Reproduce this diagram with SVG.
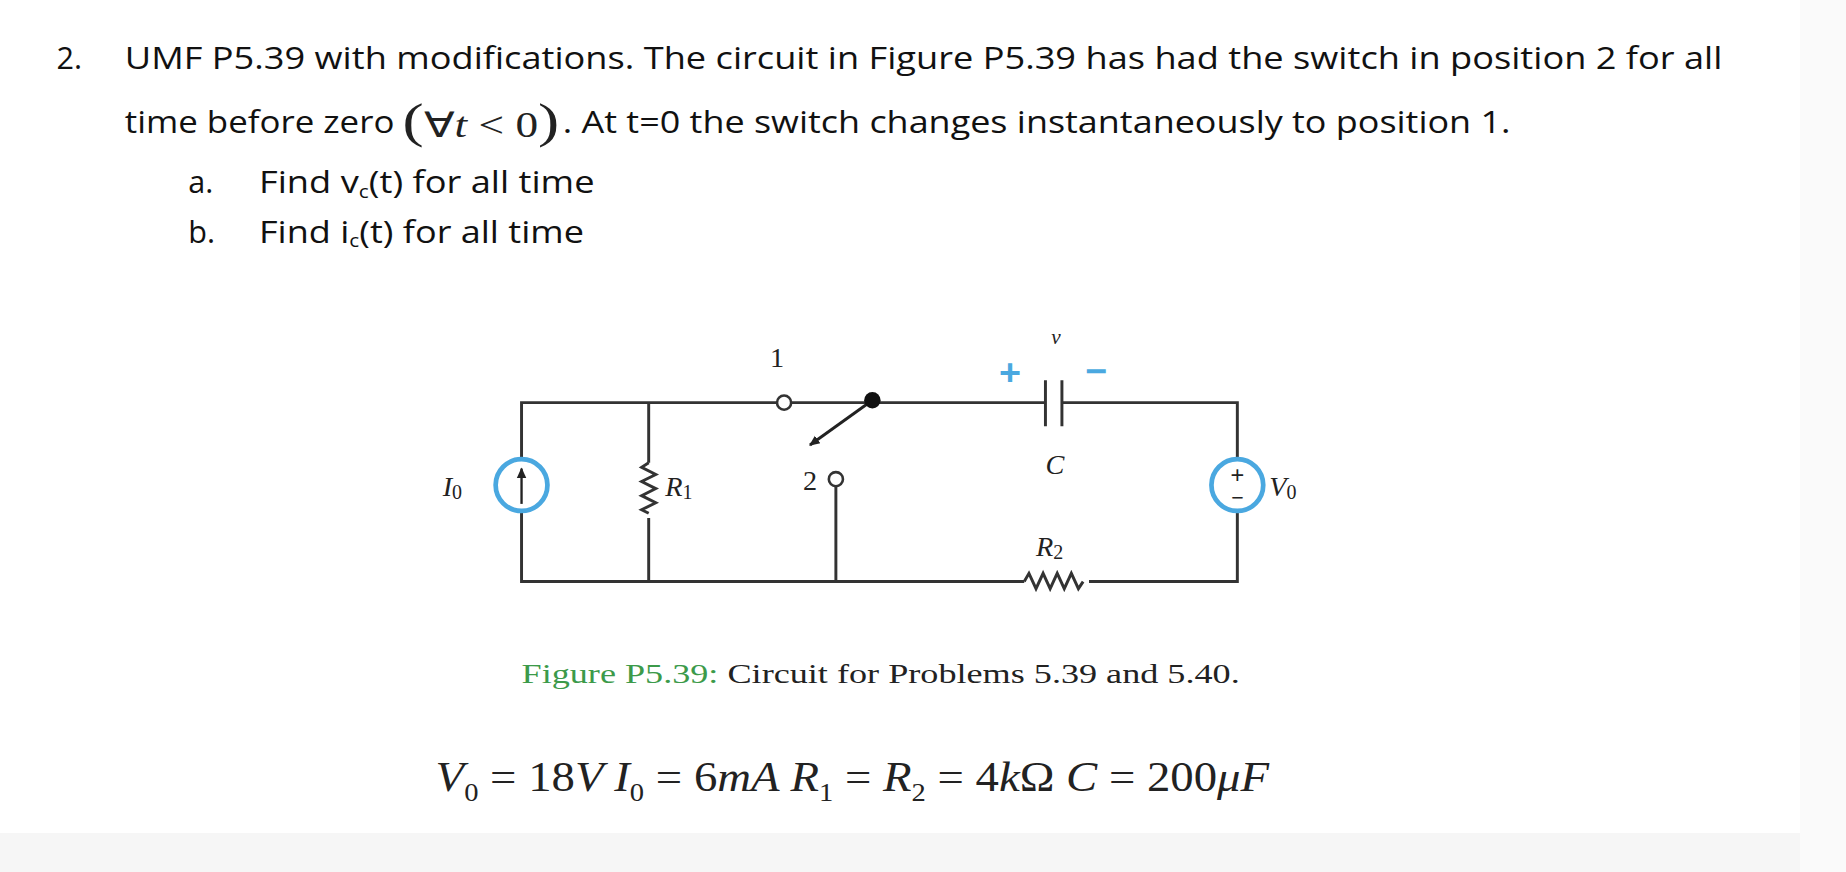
<svg xmlns="http://www.w3.org/2000/svg" width="1846" height="872" viewBox="0 0 1846 872">
<style>
.t{font-family:"Open Sans","Liberation Sans",sans-serif;font-size:26px;fill:#111}
.s{font-family:"Liberation Serif",serif;fill:#222}
.i{font-style:italic}
.w{stroke:#333;stroke-width:2.5;fill:none}
.b{stroke:#4aa8e0;stroke-width:4;fill:#fff}
.bt{font-family:"Liberation Sans",sans-serif;font-weight:bold;fill:#4aa8e0}
</style>
<defs><marker id="ah" markerWidth="10" markerHeight="10" refX="8" refY="5" orient="auto" markerUnits="userSpaceOnUse"><path d="M0,1 L9,5 L0,9 Z" fill="#222"/></marker></defs>
<rect width="1846" height="872" fill="#fff"/>
<rect x="0" y="833" width="1846" height="39" fill="#f6f6f6"/>
<rect x="1800" y="0" width="46" height="872" fill="#fafafa"/>
<g transform="scale(1.1773)">
<g id="text">
<text class="t" x="48" y="59">2.</text>
<text class="t" x="106" y="59" textLength="1357" lengthAdjust="spacingAndGlyphs">UMF P5.39 with modifications. The circuit in Figure P5.39 has had the switch in position 2 for all</text>
<text class="t" x="106" y="113" textLength="229" lengthAdjust="spacingAndGlyphs">time before zero</text>
<text class="s" x="342" y="116" font-size="30" textLength="133" lengthAdjust="spacingAndGlyphs"><tspan font-size="42">(</tspan>∀<tspan class="i">t</tspan> &lt; 0<tspan font-size="42">)</tspan></text>
<text class="t" x="478" y="113" textLength="805" lengthAdjust="spacingAndGlyphs">. At t=0 the switch changes instantaneously to position 1.</text>
<text class="t" x="160" y="164">a.</text>
<text class="t" x="220" y="164" textLength="285" lengthAdjust="spacingAndGlyphs">Find v<tspan font-size="15" dy="4">c</tspan><tspan dy="-4">(t) for all time</tspan></text>
<text class="t" x="160" y="206">b.</text>
<text class="t" x="220" y="206" textLength="276" lengthAdjust="spacingAndGlyphs">Find i<tspan font-size="15" dy="4">c</tspan><tspan dy="-4">(t) for all time</tspan></text>
</g>
<g id="connectors">
<path class="w" d="M443,390 V342 H660 M672,342 H741 M741,342 H888 M902,342 H1051 V390 M1051,434 V494 H925 M870,494 H443 V434 M551,342 V393 M551,440 V494 M710,413 V494"/>
<path class="w" d="M888,323 V362 M902,323 V362"/>
<path class="w" d="M551,393 l-6,4 l12,6 l-12,6 l12,6 l-12,6 l12,6 l-12,6 l6,3"/>
<path class="w" d="M870,494 l4,-7 l6,13 l6,-13 l6,13 l6,-13 l6,13 l6,-13 l6,13 l4,-6"/>
<line x1="741" y1="340" x2="688" y2="378" stroke="#222" stroke-width="2.5" marker-end="url(#ah)"/>
</g>
<g id="switch"><circle cx="666" cy="342" r="6" fill="#fff" stroke="#333" stroke-width="2.2"/><circle cx="710" cy="407" r="6" fill="#fff" stroke="#333" stroke-width="2.2"/><circle cx="741" cy="340" r="7" fill="#111"/>
<text class="s" x="660" y="312" font-size="24" text-anchor="middle">1</text>
<text class="s" x="688" y="416" font-size="24" text-anchor="middle">2</text></g>
<g id="I0"><circle class="b" cx="443" cy="412" r="22"/><line x1="443" y1="428" x2="443" y2="398" stroke="#222" stroke-width="2" marker-end="url(#ah)"/>
<text class="s i" x="376" y="421" font-size="24">I<tspan font-size="17" font-style="normal" dy="3">0</tspan></text></g>
<g id="R1"><text class="s i" x="565" y="421" font-size="24">R<tspan font-size="17" font-style="normal" dy="3">1</tspan></text></g>
<g id="C"><text class="bt" x="858" y="327" font-size="32" text-anchor="middle">+</text><text class="bt" x="931" y="326" font-size="32" text-anchor="middle">−</text>
<text class="s i" x="897" y="292" font-size="18" text-anchor="middle">v</text>
<text class="s i" x="896" y="403" font-size="24" text-anchor="middle">C</text></g>
<g id="V0"><circle class="b" cx="1051" cy="412" r="22"/><text x="1051" y="410" font-family="Liberation Sans,sans-serif" font-size="20" text-anchor="middle" fill="#222">+</text><text x="1051" y="429" font-family="Liberation Sans,sans-serif" font-size="18" text-anchor="middle" fill="#222">−</text>
<text class="s i" x="1078" y="421" font-size="24">V<tspan font-size="17" font-style="normal" dy="3">0</tspan></text></g>
<g id="R2"><text class="s i" x="880" y="472" font-size="24">R<tspan font-size="17" font-style="normal" dy="3">2</tspan></text></g>
<text class="s" x="443" y="580" font-size="23" textLength="610" lengthAdjust="spacingAndGlyphs"><tspan fill="#3c9a4a">Figure P5.39:</tspan> Circuit for Problems 5.39 and 5.40.</text>
<text class="s" x="370" y="672" font-size="36" textLength="708" lengthAdjust="spacingAndGlyphs"><tspan class="i">V</tspan><tspan font-size="22" dy="8">0</tspan><tspan dy="-8"> = 18</tspan><tspan class="i">V I</tspan><tspan font-size="22" dy="8">0</tspan><tspan dy="-8"> = 6</tspan><tspan class="i">mA R</tspan><tspan font-size="22" dy="8">1</tspan><tspan dy="-8"> = </tspan><tspan class="i">R</tspan><tspan font-size="22" dy="8">2</tspan><tspan dy="-8"> = 4</tspan><tspan class="i">k</tspan>Ω <tspan class="i">C</tspan> = 200<tspan class="i">μF</tspan></text>
</g>
</svg>
